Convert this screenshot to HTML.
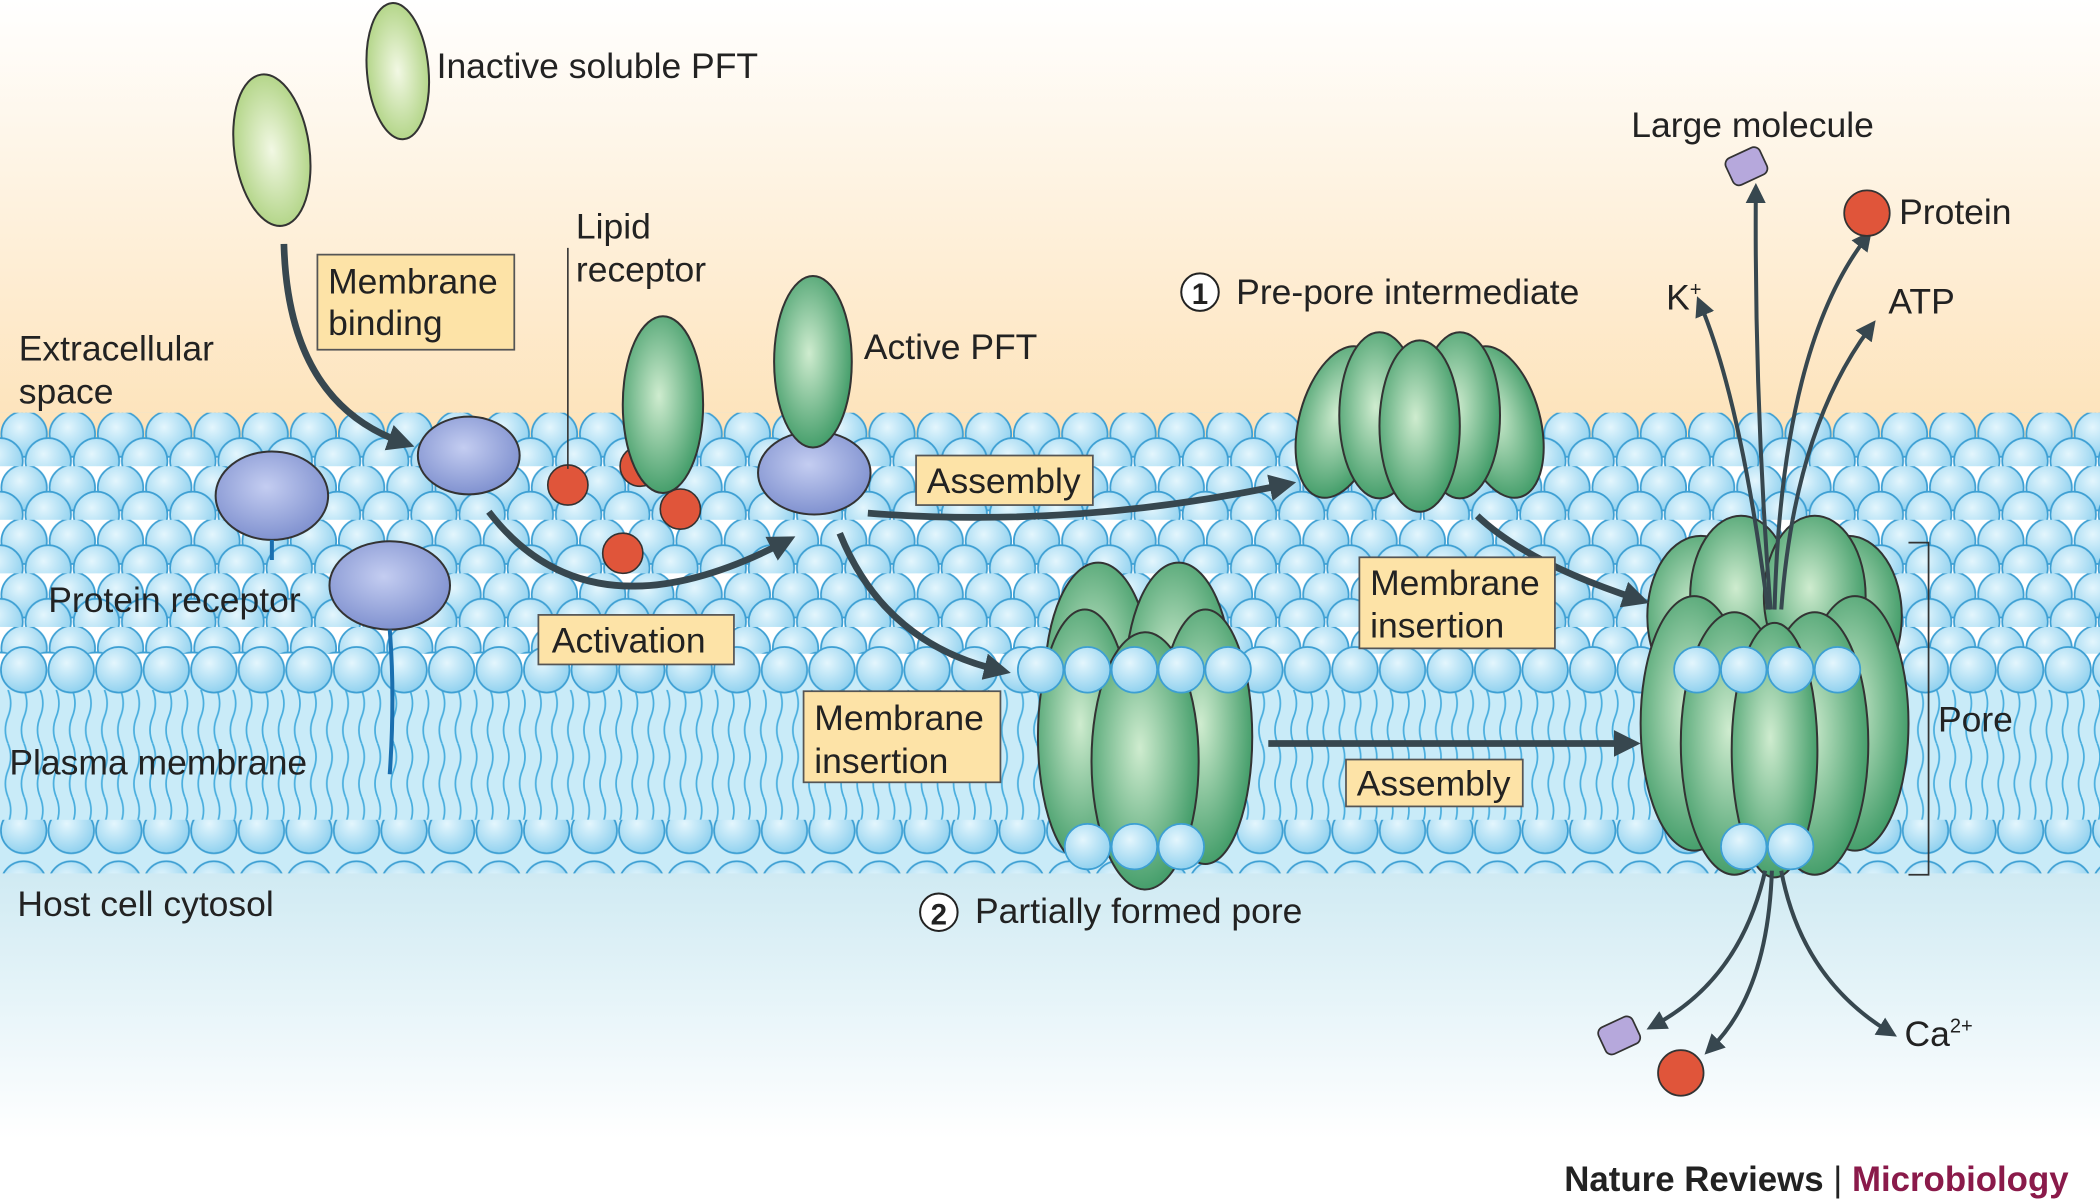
<!DOCTYPE html>
<html><head><meta charset="utf-8"><style>
html,body{margin:0;padding:0;background:#fff}
svg{display:block}
text{font-family:"Liberation Sans",sans-serif;fill:#222}
</style></head><body>
<svg width="2100" height="1203" viewBox="0 0 1568 898" xmlns="http://www.w3.org/2000/svg">
<defs>
<linearGradient id="top" x1="0" y1="0" x2="0" y2="1"><stop offset="0" stop-color="#ffffff"/><stop offset="1" stop-color="#fde2b8"/></linearGradient>
<linearGradient id="bot" x1="0" y1="0" x2="0" y2="1"><stop offset="0" stop-color="#cde9f2"/><stop offset="1" stop-color="#ffffff"/></linearGradient>
<radialGradient id="head" cx="0.4" cy="0.35" r="0.7"><stop offset="0" stop-color="#e4f6fd"/><stop offset="1" stop-color="#8ccfee"/></radialGradient>
<pattern id="heads" width="36" height="40" patternUnits="userSpaceOnUse" x="0" y="308">
<circle cx="18" cy="16" r="17" fill="url(#head)" stroke="#3d9fd3" stroke-width="1.3"/>
<circle cx="0" cy="36" r="17" fill="url(#head)" stroke="#3d9fd3" stroke-width="1.3"/>
<circle cx="36" cy="36" r="17" fill="url(#head)" stroke="#3d9fd3" stroke-width="1.3"/>
</pattern>
<pattern id="row" width="35.5" height="40" patternUnits="userSpaceOnUse" x="0" y="480">
<circle cx="17.7" cy="20" r="17" fill="url(#head)" stroke="#3d9fd3" stroke-width="1.3"/>
</pattern>
<pattern id="tails" width="12" height="40" patternUnits="userSpaceOnUse" x="0" y="515">
<path d="M6 0 q4 10 0 20 q-4 10 0 20" stroke="#4aaede" stroke-width="1.3" fill="none"/>
</pattern>
<radialGradient id="gr" cx="0.45" cy="0.45" r="0.6"><stop offset="0" stop-color="#cfeccf"/><stop offset="1" stop-color="#3a9863"/></radialGradient>
<radialGradient id="bl" cx="0.45" cy="0.4" r="0.65"><stop offset="0" stop-color="#c4cdf1"/><stop offset="1" stop-color="#7b8dcd"/></radialGradient>
<radialGradient id="lg" cx="0.5" cy="0.5" r="0.6"><stop offset="0" stop-color="#f2f8e4"/><stop offset="1" stop-color="#a8cf78"/></radialGradient>
<marker id="ar" viewBox="0 0 10 10" refX="5" refY="5" markerWidth="4" markerHeight="4" orient="auto"><path d="M0 0 L10 5 L0 10 z" fill="#37474f"/></marker>
<marker id="ar2" viewBox="0 0 10 10" refX="5" refY="5" markerWidth="5" markerHeight="5" orient="auto"><path d="M0 0 L10 5 L0 10 z" fill="#37474f"/></marker>
</defs>
<rect width="1568" height="330" fill="url(#top)"/>
<rect y="640" width="1568" height="210" fill="url(#bot)"/>
<rect y="850" width="1568" height="48" fill="#fff"/>
<rect y="500" width="1568" height="140" fill="#c9ebf8"/>
<rect y="515" width="1568" height="100" fill="url(#tails)"/>
<rect y="308" width="1568" height="180" fill="url(#heads)"/>
<rect y="480" width="1568" height="40" fill="url(#row)"/>
<rect y="612" width="1568" height="38" fill="#c9ebf8"/>
<rect x="0" y="612" width="1568" height="40" fill="url(#row)"/>

<ellipse cx="203" cy="112" rx="28" ry="57" transform="rotate(-8 203 112)" fill="url(#lg)" stroke="#333" stroke-width="1.5"/>
<ellipse cx="297" cy="53" rx="23" ry="51" transform="rotate(-5 297 53)" fill="url(#lg)" stroke="#333" stroke-width="1.5"/>

<g stroke="#333" stroke-width="1.5" fill="url(#bl)">
<ellipse cx="203" cy="370" rx="42" ry="33"/>
<ellipse cx="350" cy="340" rx="38" ry="29"/>
<ellipse cx="291" cy="437" rx="45" ry="33"/>
<ellipse cx="608" cy="353" rx="42" ry="31"/>
</g>
<path d="M203 403 v15 M291 470 q4 50 0 108" stroke="#1a6fb0" stroke-width="3" fill="none"/>
<g fill="#e0553a" stroke="#333" stroke-width="1.2">
<circle cx="424" cy="362" r="15"/><circle cx="478" cy="348" r="15"/><circle cx="508" cy="380" r="15"/><circle cx="465" cy="413" r="15"/>
</g>
<ellipse cx="495" cy="302" rx="30" ry="66" fill="url(#gr)" stroke="#333" stroke-width="1.5"/>
<ellipse cx="607" cy="270" rx="29" ry="64" fill="url(#gr)" stroke="#333" stroke-width="1.5"/>
<line x1="424" y1="185" x2="424" y2="350" stroke="#333" stroke-width="1.2"/>

<g fill="url(#gr)" stroke="#333" stroke-width="1.5">
<ellipse cx="1000" cy="315" rx="30" ry="58" transform="rotate(15 1000 315)"/>
<ellipse cx="1120" cy="315" rx="30" ry="58" transform="rotate(-15 1120 315)"/>
<ellipse cx="1030" cy="310" rx="30" ry="62"/>
<ellipse cx="1090" cy="310" rx="30" ry="62"/>
<ellipse cx="1060" cy="318" rx="30" ry="64"/>
</g>
<g fill="url(#gr)" stroke="#333" stroke-width="1.5">
<ellipse cx="820" cy="510" rx="40" ry="90"/>
<ellipse cx="880" cy="510" rx="40" ry="90"/>
<ellipse cx="810" cy="550" rx="35" ry="95"/>
<ellipse cx="900" cy="550" rx="35" ry="95"/>
<ellipse cx="855" cy="568" rx="40" ry="96"/>
</g>
<g fill="url(#gr)" stroke="#333" stroke-width="1.5">
<ellipse cx="1270" cy="460" rx="40" ry="60"/>
<ellipse cx="1380" cy="460" rx="40" ry="60"/>
<ellipse cx="1300" cy="445" rx="38" ry="60"/>
<ellipse cx="1355" cy="445" rx="38" ry="60"/>
<ellipse cx="1265" cy="540" rx="40" ry="95"/>
<ellipse cx="1385" cy="540" rx="40" ry="95"/>
<ellipse cx="1295" cy="555" rx="40" ry="98"/>
<ellipse cx="1355" cy="555" rx="40" ry="98"/>
<ellipse cx="1325" cy="560" rx="32" ry="95"/>
</g>
<g fill="url(#head)" stroke="#3d9fd3" stroke-width="1.3">
<circle cx="777" cy="500" r="17"/><circle cx="812" cy="500" r="17"/><circle cx="847" cy="500" r="17"/><circle cx="882" cy="500" r="17"/><circle cx="917" cy="500" r="17"/>
<circle cx="812" cy="632" r="17"/><circle cx="847" cy="632" r="17"/><circle cx="882" cy="632" r="17"/>
<circle cx="1267" cy="500" r="17"/><circle cx="1302" cy="500" r="17"/><circle cx="1337" cy="500" r="17"/><circle cx="1372" cy="500" r="17"/>
<circle cx="1302" cy="632" r="17"/><circle cx="1337" cy="632" r="17"/>
</g>

<g stroke="#37474f" stroke-width="5" fill="none" marker-end="url(#ar)">
<path d="M212 182 Q215 300 300 330"/>
<path d="M365 382 Q440 480 585 405"/>
<path d="M648 383 Q800 395 958 362"/>
<path d="M627 398 Q660 480 745 500"/>
<path d="M1103 385 Q1140 420 1222 447"/>
<path d="M947 555 L1215 555"/>
</g>
<g stroke="#37474f" stroke-width="3" fill="none" marker-end="url(#ar2)">
<path d="M1322 455 Q1310 300 1311 144"/>
<path d="M1325 455 Q1330 260 1393 178"/>
<path d="M1320 455 Q1300 300 1270 228"/>
<path d="M1330 455 Q1340 320 1396 245"/>
<path d="M1318 650 Q1300 730 1236 765"/>
<path d="M1323 650 Q1320 740 1278 782"/>
<path d="M1330 650 Q1345 730 1410 770"/>
</g>
<rect x="1290" y="113" width="28" height="22" rx="5" transform="rotate(-25 1304 124)" fill="#b6a8dc" stroke="#333" stroke-width="1.3"/>
<rect x="1195" y="762" width="28" height="22" rx="5" transform="rotate(-25 1209 773)" fill="#b6a8dc" stroke="#333" stroke-width="1.3"/>
<circle cx="1394" cy="159" r="17" fill="#e0553a" stroke="#333" stroke-width="1.3"/>
<circle cx="1255" cy="801" r="17" fill="#e0553a" stroke="#333" stroke-width="1.3"/>
<path d="M1425 405 h15 v248 h-15" stroke="#333" stroke-width="1.3" fill="none"/>

<g fill="#fde3a7" stroke="#555" stroke-width="1.3">
<rect x="237" y="190" width="147" height="71"/>
<rect x="402" y="459" width="146" height="37"/>
<rect x="684" y="340" width="132" height="37"/>
<rect x="600" y="516" width="147" height="68"/>
<rect x="1015" y="416" width="146" height="68"/>
<rect x="1005" y="567" width="132" height="35"/>
</g>
<g font-size="26.5">
<text x="245" y="219">Membrane</text><text x="245" y="250">binding</text>
<text x="412" y="487">Activation</text>
<text x="692" y="368">Assembly</text>
<text x="608" y="545">Membrane</text><text x="608" y="577">insertion</text>
<text x="1023" y="444">Membrane</text><text x="1023" y="476">insertion</text>
<text x="1013" y="594">Assembly</text>
<text x="326" y="58">Inactive soluble PFT</text>
<text x="430" y="178">Lipid</text><text x="430" y="210">receptor</text>
<text x="14" y="269">Extracellular</text><text x="14" y="301">space</text>
<text x="645" y="268">Active PFT</text>
<text x="36" y="457">Protein receptor</text>
<text x="7" y="578">Plasma membrane</text>
<text x="13" y="684">Host cell cytosol</text>
<text x="923" y="227">Pre-pore intermediate</text>
<text x="728" y="689">Partially formed pore</text>
<text x="1218" y="102">Large molecule</text>
<text x="1418" y="167">Protein</text>
<text x="1410" y="234">ATP</text>
<text x="1244" y="231">K<tspan font-size="15" dy="-10">+</tspan></text>
<text x="1447" y="546">Pore</text>
<text x="1422" y="781">Ca<tspan font-size="15" dy="-10">2+</tspan></text>
</g>
<circle cx="896" cy="218" r="14" fill="#fff" stroke="#222" stroke-width="1.5"/>
<text x="896" y="227" font-size="22" text-anchor="middle" font-weight="bold">1</text>
<circle cx="701" cy="681" r="14" fill="#fff" stroke="#222" stroke-width="1.5"/>
<text x="701" y="690" font-size="22" text-anchor="middle" font-weight="bold">2</text>
<text x="1168" y="889" font-size="26" font-weight="bold">Nature Reviews <tspan font-weight="normal">|</tspan> <tspan fill="#8a1a4a">Microbiology</tspan></text>
</svg>
</body></html>
